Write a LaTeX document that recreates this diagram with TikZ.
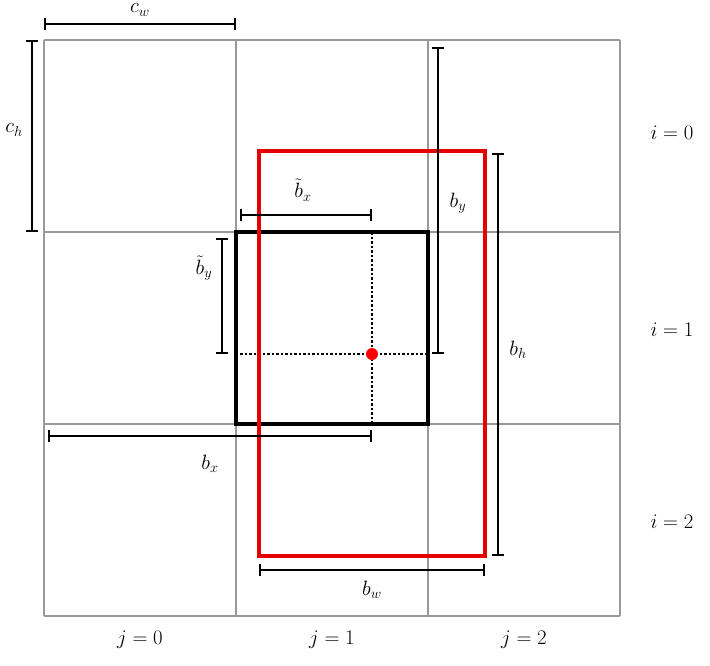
\documentclass[tikz,border=0pt]{standalone}
\usetikzlibrary{arrows.meta}
\begin{document}
\begin{tikzpicture}[x=1pt,y=-1pt,
  lab/.style={font=\fontsize{21}{24}\selectfont, inner sep=0pt},
  dl/.style={line width=1.8pt,{Bar[width=12pt]}-{Bar[width=12pt]}}]
\useasboundingbox (0,0) rectangle (710,665);
% grid
\foreach \a in {44,236,428,620}{
  \draw[gray!80,line width=2.6pt] (\a,40) -- (\a,616);
  \draw[gray!80,line width=2.6pt] (44,\a-4) -- (620,\a-4);}
% black box
\draw[line width=3.5pt] (236,232) rectangle (428,424);
\draw[line width=2.5pt,dotted] (372,232) -- (372,424);
\draw[line width=2.5pt,dotted] (240,354) -- (428,354);
% red box
\draw[red!90!black,line width=3.5pt] (259,151) rectangle (485,556);
\node[circle,fill=red,inner sep=0pt,minimum size=12pt] (c) at (372,354) {};
% dims
\draw[dl] (44,24) -- (236,24);  \node[lab] at (140,10) {$c_w$};
\draw[dl] (32,40) -- (32,232);  \node[lab] at (14,130) {$c_h$};
\draw[dl] (240,215) -- (372,215);  \node[lab] at (303,190) {$\tilde b_x$};
\draw[dl] (222,238) -- (222,354);  \node[lab] at (204,268) {$\tilde b_y$};
\draw[dl] (438,47) -- (438,354);  \node[lab] at (458,203) {$b_y$};
\draw[dl] (498,153) -- (498,556);  \node[lab] at (518,350) {$b_h$};
\draw[dl] (48,436) -- (372,436);  \node[lab] at (210,464) {$b_x$};
\draw[dl] (259,570) -- (485,570);  \node[lab] at (372,590) {$b_w$};
\node[lab] at (672,133) {$i=0$};
\node[lab] at (672,330) {$i=1$};
\node[lab] at (672,522) {$i=2$};
\node[lab] at (140,640) {$j=0$};
\node[lab] at (332,640) {$j=1$};
\node[lab] at (524,640) {$j=2$};
\end{tikzpicture}
\end{document}
